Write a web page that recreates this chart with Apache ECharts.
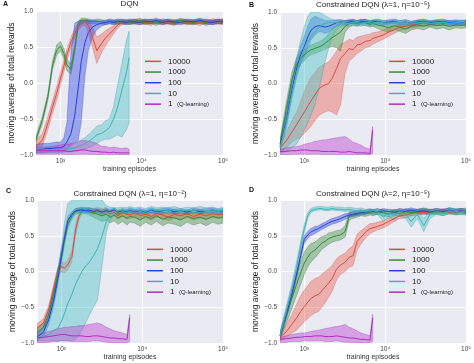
<!DOCTYPE html>
<html><head><meta charset="utf-8">
<script src="https://cdn.jsdelivr.net/npm/echarts@6/dist/echarts.min.js"></script>
<style>html,body{margin:0;padding:0;background:#fff}#c{width:474px;height:363px}</style>
</head><body><div id="c"></div>
<script>
// ---------- DATA ----------
const X = [500,600,700,800,900,1000,1100,1200,1350,1500,
  1650,1800,2000,2200,2500,2800,3200,3600,4000,4500,
  5000,5700,6500,7000,8000,9500,11000,13000,15000,18000,
  21000,25000,30000,36000,43000,52000,62000,75000,87000,100000];
const NAMES = ['10000','1000','100','10','1'];
const TITLES = ['DQN','Constrained DQN (λ=1, η=10⁻⁵)','Constrained DQN (λ=1, η=10⁻²)','Constrained DQN (λ=2, η=10⁻⁵)'];
const LETTERS = ['A','B','C','D'];
const Y_TICKS = [-1.0,-0.5,0.0,0.5,1.0];

// Panel A
const A_r = [-0.88,-0.79,-0.56,-0.33,-0.14,0.06,0.23,0.39,0.57,0.69,
 0.78,0.82,0.85,0.80,0.62,0.45,0.55,0.63,0.68,0.74,
 0.80,0.84,0.85,0.84,0.86,0.84,0.85,0.83,0.86,0.84,
 0.85,0.83,0.86,0.84,0.85,0.83,0.86,0.84,0.85,0.84];
const A_r_lo = [-0.95,-0.87,-0.65,-0.42,-0.23,-0.03,0.15,0.31,0.50,0.63,
 0.73,0.78,0.81,0.70,0.48,0.27,0.42,0.52,0.60,0.68,
 0.76,0.81,0.82,0.81,0.83,0.81,0.82,0.80,0.83,0.81,
 0.82,0.80,0.83,0.81,0.82,0.80,0.83,0.81,0.82,0.81];
const A_r_hi = [-0.80,-0.70,-0.47,-0.24,-0.05,0.15,0.31,0.47,0.64,0.75,
 0.83,0.86,0.88,0.88,0.76,0.64,0.68,0.73,0.76,0.80,
 0.84,0.87,0.88,0.87,0.89,0.87,0.88,0.86,0.89,0.87,
 0.88,0.86,0.89,0.87,0.88,0.86,0.89,0.87,0.88,0.87];
const A_g = [-0.78,-0.51,-0.19,0.25,0.46,0.51,0.41,0.25,0.19,0.48,
 0.81,0.87,0.87,0.86,0.85,0.86,0.85,0.84,0.86,0.85,
 0.84,0.86,0.85,0.84,0.85,0.87,0.84,0.86,0.83,0.86,
 0.85,0.84,0.87,0.85,0.84,0.86,0.83,0.86,0.85,0.86];
const A_g_lo = [-0.83,-0.56,-0.24,0.19,0.39,0.44,0.34,0.17,0.12,0.42,
 0.77,0.84,0.84,0.83,0.82,0.83,0.82,0.81,0.83,0.82,
 0.81,0.83,0.82,0.81,0.82,0.84,0.81,0.83,0.80,0.83,
 0.82,0.81,0.84,0.82,0.81,0.83,0.80,0.83,0.82,0.83];
const A_g_hi = [-0.73,-0.46,-0.14,0.31,0.53,0.58,0.48,0.33,0.26,0.54,
 0.85,0.90,0.90,0.89,0.88,0.89,0.88,0.87,0.89,0.88,
 0.87,0.89,0.88,0.87,0.88,0.90,0.87,0.89,0.86,0.89,
 0.88,0.87,0.90,0.88,0.87,0.89,0.86,0.89,0.88,0.89];
const A_b = [-0.93,-0.92,-0.91,-0.91,-0.90,-0.90,-0.88,-0.82,-0.70,-0.45,
 -0.08,0.30,0.56,0.70,0.78,0.81,0.83,0.84,0.85,0.84,
 0.86,0.85,0.84,0.86,0.85,0.84,0.86,0.85,0.87,0.84,
 0.86,0.85,0.84,0.86,0.85,0.87,0.85,0.84,0.86,0.85];
const A_b_lo = [-0.97,-0.97,-0.96,-0.96,-0.96,-0.96,-0.95,-0.93,-0.87,-0.82,
 -0.80,-0.55,0.10,0.45,0.65,0.74,0.79,0.81,0.82,0.81,
 0.83,0.82,0.81,0.83,0.82,0.81,0.83,0.82,0.84,0.81,
 0.83,0.82,0.81,0.83,0.82,0.84,0.82,0.81,0.83,0.82];
const A_b_hi = [-0.85,-0.84,-0.84,-0.83,-0.82,-0.82,-0.76,-0.55,0.45,0.83,
 0.86,0.87,0.87,0.87,0.87,0.86,0.86,0.87,0.88,0.87,
 0.89,0.88,0.87,0.89,0.88,0.87,0.89,0.88,0.90,0.87,
 0.89,0.88,0.87,0.89,0.88,0.90,0.88,0.87,0.89,0.88];
const A_c = [-0.93,-0.93,-0.93,-0.93,-0.93,-0.93,-0.92,-0.92,-0.91,-0.90,
 -0.88,-0.87,-0.84,-0.81,-0.77,-0.72,-0.70,-0.66,-0.62,-0.50,
 -0.35,-0.10,0.15,0.35];
const A_c_lo = [-0.97,-0.97,-0.97,-0.97,-0.97,-0.97,-0.96,-0.96,-0.96,-0.95,
 -0.94,-0.93,-0.91,-0.90,-0.88,-0.84,-0.80,-0.78,-0.78,-0.75,
 -0.72,-0.75,-0.65,-0.55];
const A_c_hi = [-0.89,-0.89,-0.89,-0.89,-0.89,-0.89,-0.88,-0.87,-0.86,-0.84,
 -0.81,-0.79,-0.76,-0.72,-0.66,-0.60,-0.58,-0.52,-0.50,-0.33,
 -0.05,0.27,0.60,0.72];
const A_p = [-0.94,-0.94,-0.94,-0.94,-0.94,-0.94,-0.94,-0.95,-0.95,-0.94,
 -0.94,-0.93,-0.93,-0.94,-0.95,-0.95,-0.96,-0.96,-0.97,-0.96,
 -0.97,-0.97,-0.97,-0.97];
const A_p_lo = [-0.99,-0.99,-0.99,-0.99,-0.99,-0.99,-0.99,-1.0,-1.0,-0.99,
 -0.99,-0.99,-0.99,-0.99,-1.0,-1.0,-1.0,-1.0,-1.0,-1.0,
 -1.0,-1.0,-1.0,-1.0];
const A_p_hi = [-0.90,-0.90,-0.89,-0.88,-0.87,-0.86,-0.85,-0.85,-0.84,-0.83,
 -0.82,-0.80,-0.80,-0.81,-0.82,-0.84,-0.88,-0.88,-0.90,-0.89,
 -0.90,-0.91,-0.90,-0.92];

// Panel B
const B_r = [-0.90,-0.80,-0.68,-0.58,-0.48,-0.40,-0.32,-0.25,-0.16,-0.08,
 -0.04,-0.02,0.00,0.07,0.21,0.35,0.42,0.49,0.47,0.54,
 0.55,0.59,0.60,0.63,0.65,0.68,0.72,0.75,0.79,0.80,
 0.82,0.83,0.85,0.83,0.86,0.84,0.85,0.83,0.85,0.84];
const B_r_lo = [-0.96,-0.90,-0.82,-0.78,-0.75,-0.70,-0.65,-0.60,-0.52,-0.45,
 -0.42,-0.40,-0.38,-0.40,-0.44,-0.30,0.15,0.32,0.36,0.42,
 0.45,0.50,0.52,0.55,0.58,0.62,0.66,0.70,0.74,0.76,
 0.78,0.79,0.81,0.80,0.82,0.81,0.82,0.80,0.82,0.81];
const B_r_hi = [-0.84,-0.68,-0.52,-0.40,-0.25,-0.10,0.00,0.08,0.15,0.22,
 0.25,0.28,0.30,0.36,0.45,0.55,0.58,0.62,0.60,0.65,
 0.66,0.68,0.69,0.71,0.72,0.75,0.78,0.80,0.83,0.84,
 0.86,0.87,0.88,0.86,0.89,0.87,0.88,0.86,0.88,0.87];
const B_g = [-0.85,-0.35,0.05,0.26,0.36,0.40,0.44,0.47,0.49,0.51,
 0.53,0.56,0.60,0.64,0.68,0.72,0.80,0.84,0.85,0.84,
 0.86,0.85,0.83,0.84,0.82,0.80,0.78,0.81,0.79,0.76,
 0.80,0.82,0.80,0.83,0.81,0.82,0.80,0.82,0.81,0.82];
const B_g_lo = [-0.92,-0.45,-0.05,0.16,0.27,0.32,0.37,0.40,0.42,0.44,
 0.46,0.48,0.50,0.52,0.50,0.45,0.72,0.79,0.81,0.80,
 0.82,0.81,0.79,0.80,0.77,0.74,0.72,0.76,0.73,0.70,
 0.75,0.77,0.75,0.79,0.76,0.78,0.75,0.78,0.77,0.78];
const B_g_hi = [-0.78,-0.25,0.15,0.36,0.45,0.48,0.51,0.54,0.56,0.58,
 0.60,0.64,0.70,0.76,0.82,0.86,0.88,0.89,0.89,0.88,
 0.90,0.89,0.87,0.88,0.87,0.86,0.84,0.86,0.85,0.82,
 0.85,0.87,0.85,0.87,0.86,0.86,0.85,0.86,0.85,0.86];
const B_b = [-0.88,-0.52,-0.10,0.20,0.40,0.52,0.65,0.74,0.79,0.81,
 0.80,0.79,0.80,0.82,0.85,0.86,0.85,0.86,0.87,0.85,
 0.86,0.87,0.85,0.86,0.87,0.85,0.86,0.87,0.85,0.86,
 0.84,0.86,0.87,0.85,0.86,0.87,0.85,0.86,0.85,0.86];
const B_b_lo = [-0.94,-0.62,-0.22,0.08,0.27,0.38,0.50,0.60,0.68,0.72,
 0.72,0.70,0.72,0.76,0.80,0.82,0.82,0.83,0.84,0.82,
 0.83,0.84,0.82,0.83,0.84,0.82,0.83,0.84,0.82,0.83,
 0.81,0.83,0.84,0.82,0.83,0.84,0.82,0.83,0.82,0.83];
const B_b_hi = [-0.80,-0.42,0.02,0.32,0.53,0.66,0.80,0.90,0.94,0.92,
 0.90,0.88,0.88,0.88,0.89,0.89,0.88,0.89,0.90,0.88,
 0.89,0.90,0.88,0.89,0.90,0.88,0.89,0.90,0.88,0.89,
 0.87,0.89,0.90,0.88,0.89,0.90,0.88,0.89,0.88,0.89];
const B_c = [-0.90,-0.55,-0.15,0.15,0.35,0.50,0.58,0.65,0.72,0.78,
 0.82,0.84,0.85,0.86,0.85,0.86,0.85,0.84,0.86,0.85,
 0.84,0.86,0.85,0.84,0.86,0.85,0.84,0.86,0.85,0.86,
 0.84,0.85,0.86,0.84,0.85,0.86,0.84,0.85,0.86,0.85];
const B_c_lo = [-0.97,-0.95,-0.90,-0.85,-0.75,-0.65,-0.55,-0.45,-0.30,-0.10,
 0.10,0.30,0.50,0.65,0.75,0.80,0.81,0.80,0.82,0.81,
 0.80,0.82,0.81,0.80,0.82,0.81,0.80,0.82,0.81,0.82,
 0.80,0.81,0.82,0.80,0.81,0.82,0.80,0.81,0.82,0.81];
const B_c_hi = [-0.82,-0.45,0.00,0.35,0.60,0.80,0.93,1.00,1.00,1.00,
 0.98,0.95,0.92,0.90,0.88,0.89,0.88,0.87,0.89,0.88,
 0.87,0.89,0.88,0.87,0.89,0.88,0.87,0.89,0.88,0.89,
 0.87,0.88,0.89,0.87,0.88,0.89,0.87,0.88,0.89,0.88];
const B_p = [-0.95,-0.95,-0.94,-0.94,-0.93,-0.93,-0.93,-0.94,-0.94,-0.94,
 -0.95,-0.95,-0.95,-0.95,-0.95,-0.96,-0.96,-0.95,-0.96,-0.97,
 -0.97,-0.97,-0.98,-0.65];
const B_p_lo = [-1.0,-1.0,-0.99,-0.99,-0.99,-0.99,-0.99,-0.99,-0.99,-0.99,
 -1.0,-1.0,-1.0,-1.0,-1.0,-1.0,-1.0,-1.0,-1.0,-1.0,
 -1.0,-1.0,-1.0,-0.98];
const B_p_hi = [-0.92,-0.90,-0.89,-0.88,-0.87,-0.85,-0.84,-0.83,-0.81,-0.80,
 -0.79,-0.79,-0.78,-0.77,-0.76,-0.75,-0.74,-0.78,-0.82,-0.84,
 -0.86,-0.90,-0.92,-0.60];

// Panel C
const C_r = [-0.79,-0.72,-0.53,-0.26,-0.02,0.07,0.05,0.09,0.21,0.58,
 0.77,0.84,0.86,0.85,0.84,0.86,0.83,0.85,0.80,0.83,
 0.78,0.82,0.80,0.79,0.82,0.78,0.80,0.77,0.81,0.79,
 0.76,0.80,0.78,0.81,0.77,0.80,0.78,0.81,0.79,0.80];
const C_r_lo = [-0.85,-0.78,-0.59,-0.33,-0.09,0.00,-0.02,0.02,0.13,0.50,
 0.72,0.80,0.82,0.81,0.80,0.82,0.78,0.80,0.75,0.78,
 0.73,0.77,0.75,0.74,0.77,0.73,0.75,0.72,0.76,0.74,
 0.71,0.75,0.73,0.76,0.72,0.75,0.73,0.76,0.74,0.75];
const C_r_hi = [-0.73,-0.66,-0.47,-0.19,0.05,0.14,0.12,0.16,0.29,0.66,
 0.82,0.88,0.90,0.89,0.88,0.90,0.88,0.90,0.85,0.88,
 0.83,0.87,0.85,0.84,0.87,0.83,0.85,0.82,0.86,0.84,
 0.81,0.85,0.83,0.86,0.82,0.85,0.83,0.86,0.84,0.85];
const C_g = [-0.86,-0.78,-0.60,-0.32,-0.05,0.20,0.45,0.65,0.78,0.84,
 0.85,0.86,0.85,0.84,0.82,0.80,0.78,0.80,0.76,0.79,
 0.75,0.78,0.74,0.77,0.76,0.72,0.77,0.74,0.78,0.73,
 0.76,0.75,0.72,0.77,0.74,0.76,0.73,0.77,0.75,0.76];
const C_g_lo = [-0.92,-0.84,-0.67,-0.40,-0.13,0.12,0.38,0.59,0.73,0.80,
 0.81,0.82,0.81,0.79,0.76,0.73,0.70,0.72,0.68,0.71,
 0.66,0.70,0.65,0.69,0.68,0.63,0.69,0.65,0.70,0.64,
 0.68,0.66,0.63,0.69,0.65,0.68,0.64,0.69,0.66,0.68];
const C_g_hi = [-0.80,-0.72,-0.53,-0.24,0.03,0.28,0.52,0.71,0.83,0.88,
 0.89,0.90,0.89,0.89,0.88,0.87,0.86,0.88,0.84,0.87,
 0.84,0.86,0.83,0.85,0.84,0.81,0.85,0.83,0.86,0.82,
 0.84,0.84,0.81,0.85,0.83,0.84,0.82,0.85,0.84,0.84];
const C_b = [-0.92,-0.85,-0.67,-0.42,-0.12,0.21,0.49,0.71,0.80,0.85,
 0.86,0.86,0.85,0.86,0.84,0.85,0.83,0.85,0.84,0.86,
 0.83,0.85,0.84,0.86,0.84,0.85,0.83,0.86,0.84,0.85,
 0.86,0.84,0.85,0.83,0.86,0.84,0.85,0.86,0.84,0.85];
const C_b_lo = [-0.97,-0.91,-0.74,-0.50,-0.20,0.13,0.42,0.65,0.76,0.82,
 0.83,0.83,0.82,0.83,0.81,0.82,0.80,0.82,0.81,0.83,
 0.80,0.82,0.81,0.83,0.81,0.82,0.80,0.83,0.81,0.82,
 0.83,0.81,0.82,0.80,0.83,0.81,0.82,0.83,0.81,0.82];
const C_b_hi = [-0.87,-0.79,-0.60,-0.34,-0.04,0.29,0.56,0.77,0.84,0.88,
 0.89,0.89,0.88,0.89,0.87,0.88,0.86,0.88,0.87,0.89,
 0.86,0.88,0.87,0.89,0.87,0.88,0.86,0.89,0.87,0.88,
 0.89,0.87,0.88,0.86,0.89,0.87,0.88,0.89,0.87,0.88];
const C_c = [-0.92,-0.91,-0.88,-0.83,-0.80,-0.70,-0.58,-0.45,-0.32,-0.18,
 -0.08,0.00,0.08,0.12,0.22,0.32,0.50,0.70,0.80,0.84,
 0.85,0.86,0.85,0.87,0.85,0.86,0.84,0.87,0.85,0.86,
 0.85,0.87,0.84,0.86,0.85,0.87,0.85,0.86,0.84,0.86];
const C_c_lo = [-0.97,-0.97,-0.97,-0.97,-0.97,-0.97,-0.97,-0.97,-0.97,-0.95,
 -0.90,-0.82,-0.72,-0.62,-0.50,-0.40,0.10,0.55,0.72,0.79,
 0.81,0.82,0.81,0.83,0.81,0.82,0.80,0.83,0.81,0.82,
 0.81,0.83,0.80,0.82,0.81,0.83,0.81,0.82,0.80,0.82];
const C_c_hi = [-0.85,-0.80,-0.65,-0.40,-0.05,0.35,0.70,0.95,1.00,1.00,
 1.00,1.00,1.00,1.00,1.00,1.00,1.00,0.92,0.90,0.89,
 0.89,0.90,0.89,0.91,0.89,0.90,0.88,0.91,0.89,0.90,
 0.89,0.91,0.88,0.90,0.89,0.91,0.89,0.90,0.88,0.90];
const C_p = [-0.93,-0.92,-0.91,-0.90,-0.89,-0.88,-0.88,-0.89,-0.90,-0.90,
 -0.90,-0.90,-0.91,-0.91,-0.90,-0.90,-0.91,-0.92,-0.93,-0.93,
 -0.94,-0.94,-0.95,-0.65];
const C_p_lo = [-1.0,-1.0,-0.99,-0.98,-0.98,-0.97,-0.97,-0.97,-0.98,-0.98,
 -0.98,-0.98,-0.98,-0.98,-0.97,-0.97,-0.98,-0.99,-1.0,-1.0,
 -1.0,-1.0,-1.0,-0.98];
const C_p_hi = [-0.88,-0.86,-0.84,-0.82,-0.80,-0.79,-0.78,-0.78,-0.77,-0.77,
 -0.76,-0.76,-0.75,-0.74,-0.73,-0.72,-0.74,-0.78,-0.80,-0.83,
 -0.84,-0.86,-0.88,-0.60];

// Panel D
const D_r = [-0.92,-0.84,-0.74,-0.65,-0.56,-0.49,-0.43,-0.38,-0.34,-0.32,
 -0.27,-0.22,-0.16,-0.10,0.03,0.09,0.13,0.20,0.22,0.42,
 0.48,0.55,0.60,0.61,0.63,0.66,0.70,0.74,0.78,0.79,
 0.81,0.83,0.82,0.84,0.83,0.85,0.83,0.84,0.85,0.84];
const D_r_lo = [-0.97,-0.92,-0.86,-0.82,-0.76,-0.70,-0.66,-0.62,-0.58,-0.56,
 -0.50,-0.44,-0.36,-0.28,-0.12,-0.04,0.00,0.06,0.08,0.30,
 0.38,0.47,0.53,0.55,0.58,0.61,0.65,0.70,0.74,0.75,
 0.78,0.80,0.79,0.81,0.80,0.82,0.80,0.81,0.82,0.81];
const D_r_hi = [-0.86,-0.74,-0.60,-0.46,-0.34,-0.26,-0.20,-0.14,-0.10,-0.08,
 -0.04,0.00,0.04,0.08,0.18,0.22,0.26,0.32,0.36,0.52,
 0.57,0.62,0.67,0.67,0.69,0.71,0.75,0.78,0.82,0.83,
 0.84,0.86,0.85,0.87,0.86,0.88,0.86,0.87,0.88,0.87];
const D_g = [-0.90,-0.62,-0.38,-0.18,-0.02,0.12,0.20,0.26,0.30,0.35,
 0.40,0.42,0.46,0.48,0.50,0.51,0.56,0.78,0.79,0.80,
 0.82,0.81,0.83,0.82,0.84,0.82,0.80,0.83,0.81,0.84,
 0.82,0.83,0.85,0.83,0.84,0.82,0.85,0.83,0.84,0.83];
const D_g_lo = [-0.95,-0.72,-0.52,-0.34,-0.18,-0.04,0.06,0.13,0.19,0.25,
 0.31,0.34,0.38,0.41,0.43,0.44,0.48,0.72,0.74,0.76,
 0.78,0.77,0.79,0.78,0.80,0.78,0.76,0.79,0.77,0.80,
 0.78,0.79,0.81,0.79,0.80,0.78,0.81,0.79,0.80,0.79];
const D_g_hi = [-0.85,-0.52,-0.24,-0.02,0.14,0.28,0.34,0.39,0.41,0.45,
 0.49,0.50,0.54,0.55,0.57,0.58,0.64,0.84,0.84,0.84,
 0.86,0.85,0.87,0.86,0.88,0.86,0.84,0.87,0.85,0.88,
 0.86,0.87,0.89,0.87,0.88,0.86,0.89,0.87,0.88,0.87];
const D_b = [-0.90,-0.60,-0.32,-0.05,0.22,0.45,0.51,0.55,0.58,0.60,
 0.63,0.65,0.68,0.70,0.72,0.74,0.77,0.79,0.80,0.81,
 0.82,0.83,0.84,0.84,0.83,0.85,0.84,0.83,0.85,0.84,
 0.86,0.84,0.85,0.83,0.85,0.84,0.86,0.84,0.85,0.84];
const D_b_lo = [-0.94,-0.65,-0.37,-0.10,0.17,0.40,0.46,0.50,0.53,0.56,
 0.59,0.61,0.64,0.66,0.68,0.70,0.73,0.76,0.77,0.78,
 0.79,0.80,0.81,0.81,0.80,0.82,0.81,0.80,0.82,0.81,
 0.83,0.81,0.82,0.80,0.82,0.81,0.83,0.81,0.82,0.81];
const D_b_hi = [-0.86,-0.55,-0.27,0.00,0.27,0.50,0.56,0.60,0.63,0.64,
 0.67,0.69,0.72,0.74,0.76,0.78,0.81,0.82,0.83,0.84,
 0.85,0.86,0.87,0.87,0.86,0.88,0.87,0.86,0.88,0.87,
 0.89,0.87,0.88,0.86,0.88,0.87,0.89,0.87,0.88,0.87];
const D_c = [-0.90,-0.55,-0.25,0.05,0.35,0.60,0.78,0.85,0.87,0.88,
 0.88,0.87,0.87,0.88,0.87,0.87,0.86,0.87,0.86,0.85,
 0.86,0.84,0.85,0.82,0.84,0.76,0.82,0.78,0.83,0.80,
 0.70,0.80,0.64,0.80,0.84,0.82,0.85,0.84,0.83,0.85];
const D_c_lo = [-0.94,-0.62,-0.33,-0.03,0.28,0.54,0.74,0.82,0.85,0.86,
 0.86,0.85,0.85,0.86,0.85,0.85,0.84,0.85,0.84,0.83,
 0.84,0.82,0.83,0.79,0.80,0.70,0.77,0.72,0.78,0.74,
 0.62,0.74,0.56,0.74,0.80,0.78,0.81,0.80,0.79,0.81];
const D_c_hi = [-0.86,-0.48,-0.17,0.13,0.42,0.66,0.82,0.88,0.90,0.91,
 0.91,0.90,0.90,0.91,0.90,0.90,0.89,0.90,0.89,0.88,
 0.89,0.87,0.88,0.86,0.88,0.84,0.87,0.84,0.88,0.86,
 0.80,0.86,0.74,0.86,0.88,0.86,0.89,0.88,0.87,0.89];
const D_p = [-0.95,-0.94,-0.93,-0.92,-0.92,-0.91,-0.91,-0.91,-0.90,-0.90,
 -0.90,-0.91,-0.91,-0.91,-0.90,-0.91,-0.92,-0.93,-0.93,-0.94,
 -0.95,-0.95,-0.96,-0.65];
const D_p_lo = [-1.0,-0.99,-0.98,-0.98,-0.98,-0.97,-0.97,-0.97,-0.97,-0.97,
 -0.97,-0.98,-0.98,-0.98,-0.97,-0.98,-0.99,-0.99,-1.0,-1.0,
 -1.0,-1.0,-1.0,-0.98];
const D_p_hi = [-0.92,-0.90,-0.88,-0.87,-0.86,-0.86,-0.85,-0.84,-0.83,-0.82,
 -0.81,-0.80,-0.79,-0.78,-0.77,-0.76,-0.74,-0.78,-0.80,-0.83,
 -0.86,-0.88,-0.90,-0.60];

// ---------- STYLE / LAYOUT ----------
const LINE_COLORS = ['#e0483e','#3a8a3a','#2743dc','#3db3b3','#a832b8'];
const FILL_COLORS = ['rgba(236,92,80,0.42)','rgba(70,150,70,0.45)','rgba(55,80,230,0.45)','rgba(80,200,200,0.45)','rgba(190,70,210,0.45)'];
const EDGE_COLORS = ['rgba(190,70,60,0.55)','rgba(45,105,45,0.6)','rgba(35,55,180,0.6)','rgba(40,140,140,0.6)','rgba(140,45,160,0.6)'];
const FONT = '"Liberation Sans", Arial, "DejaVu Sans", sans-serif';
const GRIDS = [
  {left:36, top:11, width:187, height:144},
  {left:280, top:12, width:186, height:143},
  {left:37, top:200, width:186, height:143},
  {left:280, top:200, width:186, height:143}
];
const LEGEND_POS = [{left:145, top:56},{left:389, top:56},{left:147, top:244},{left:389, top:244}];
const TITLE_POS = [{left:129.5, top:0},{left:373, top:0.5},{left:130, top:189.5},{left:373, top:189.5}];
const LETTER_POS = [{left:3, top:1},{left:249, top:2},{left:6, top:188},{left:249, top:187}];

const panels = [
  {mean:[A_r,A_g,A_b,A_c,A_p], lo:[A_r_lo,A_g_lo,A_b_lo,A_c_lo,A_p_lo], hi:[A_r_hi,A_g_hi,A_b_hi,A_c_hi,A_p_hi]},
  {mean:[B_r,B_g,B_b,B_c,B_p], lo:[B_r_lo,B_g_lo,B_b_lo,B_c_lo,B_p_lo], hi:[B_r_hi,B_g_hi,B_b_hi,B_c_hi,B_p_hi]},
  {mean:[C_r,C_g,C_b,C_c,C_p], lo:[C_r_lo,C_g_lo,C_b_lo,C_c_lo,C_p_lo], hi:[C_r_hi,C_g_hi,C_b_hi,C_c_hi,C_p_hi]},
  {mean:[D_r,D_g,D_b,D_c,D_p], lo:[D_r_lo,D_g_lo,D_b_lo,D_c_lo,D_p_lo], hi:[D_r_hi,D_g_hi,D_b_hi,D_c_hi,D_p_hi]}
];

const SUP = {3:'³',4:'⁴',5:'⁵'};
const series = [];
panels.forEach((p, pi) => {
  for (let k = 0; k < 5; k++) {
    const m = p.mean[k], lo = p.lo[k], hi = p.hi[k];
    const n = Math.min(m.length, lo.length, hi.length);
    const xs = X.slice(0, n);
    series.push({
      type:'custom', name:'band'+pi+'_'+k, xAxisIndex:pi, yAxisIndex:pi,
      silent:true, animation:false, clip:true, z:2,
      data: xs.map((x,i)=>[x, lo[i], hi[i]]),
      encode:{x:0, y:[1,2]},
      renderItem:(params, api) => {
        if (params.dataIndex !== 0) return null;
        const pts = [];
        for (let i = 0; i < n; i++) pts.push(api.coord([xs[i], hi[i]]));
        for (let i = n-1; i >= 0; i--) pts.push(api.coord([xs[i], lo[i]]));
        return {type:'polygon', shape:{points:pts}, style:{fill:FILL_COLORS[k], stroke:EDGE_COLORS[k], lineWidth:0.5}};
      }
    });
    series.push({
      type:'line', name:NAMES[k], xAxisIndex:pi, yAxisIndex:pi, z:2,
      data: xs.map((x,i)=>[x, m[i]]),
      showSymbol:false, symbol:'none', silent:true, animation:false,
      color:LINE_COLORS[k],
      itemStyle:{color:LINE_COLORS[k]},
      lineStyle:{width:1, color:LINE_COLORS[k]}
    });
  }
});

const option = {
  animation:false,
  backgroundColor:'#ffffff',
  textStyle:{fontFamily:FONT},
  title: TITLES.map((t,i)=>({text:t, left:TITLE_POS[i].left, top:TITLE_POS[i].top, textAlign:'center', padding:0,
      textStyle:{fontSize:8, fontWeight:'normal', color:'#222', fontFamily:FONT}}))
    .concat(LETTERS.map((t,i)=>({text:t, left:LETTER_POS[i].left, top:LETTER_POS[i].top, padding:0,
      textStyle:{fontSize:7, fontWeight:'bold', color:'#111', fontFamily:FONT}}))),
  grid: GRIDS.map(g=>Object.assign({show:true, backgroundColor:'#EAEAF2', borderWidth:0, containLabel:false, outerBoundsMode:'none'}, g)),
  xAxis: GRIDS.map((g,i)=>({
    type:'log', logBase:10, gridIndex:i, min:500, max:100000,
    name:'training episodes', nameLocation:'middle', nameGap:9.5,
    nameTextStyle:{fontSize:7, color:'#333', fontFamily:FONT},
    axisLine:{show:false}, axisTick:{show:false}, minorTick:{show:false},
    splitLine:{show:true, lineStyle:{color:'#ffffff', width:1}},
    axisLabel:{fontSize:6.5, color:'#444', margin:3, fontFamily:FONT,
      formatter:v=>{const l=Math.log10(v); const r=Math.round(l); return Math.abs(l-r)<1e-6 && SUP[r] ? '10'+SUP[r] : '';}}
  })),
  yAxis: GRIDS.map((g,i)=>({
    type:'value', gridIndex:i, min:Y_TICKS[0], max:Y_TICKS[Y_TICKS.length-1], interval:0.5,
    name:'moving average of total rewards', nameLocation:'middle', nameGap:i%2===0?17:18, nameRotate:90,
    nameTextStyle:{fontSize:8.5, color:'#222', fontFamily:FONT},
    axisLine:{show:false}, axisTick:{show:false},
    splitLine:{show:true, lineStyle:{color:'#ffffff', width:1}},
    axisLabel:{fontSize:6.5, color:'#444', margin:3, fontFamily:FONT,
      formatter:v=>v.toFixed(1).replace('-','−')}
  })),
  legend: LEGEND_POS.map(p=>({
    left:p.left, top:p.top, orient:'vertical', data:NAMES, icon:'rect',
    itemWidth:16, itemHeight:1.5, itemGap:0, padding:0, selectedMode:false,
    formatter:name=> name==='1' ? '1  {q|(Q-learning)}' : name,
    textStyle:{fontSize:8, color:'#222', lineHeight:10.7, padding:[0,0,0,2], fontFamily:FONT,
      rich:{q:{fontSize:6, color:'#222', fontFamily:FONT}}}
  })),
  series: series
};
const chart = echarts.init(document.getElementById('c'), null, {renderer:'canvas'});
chart.setOption(option);
</script></body></html>
